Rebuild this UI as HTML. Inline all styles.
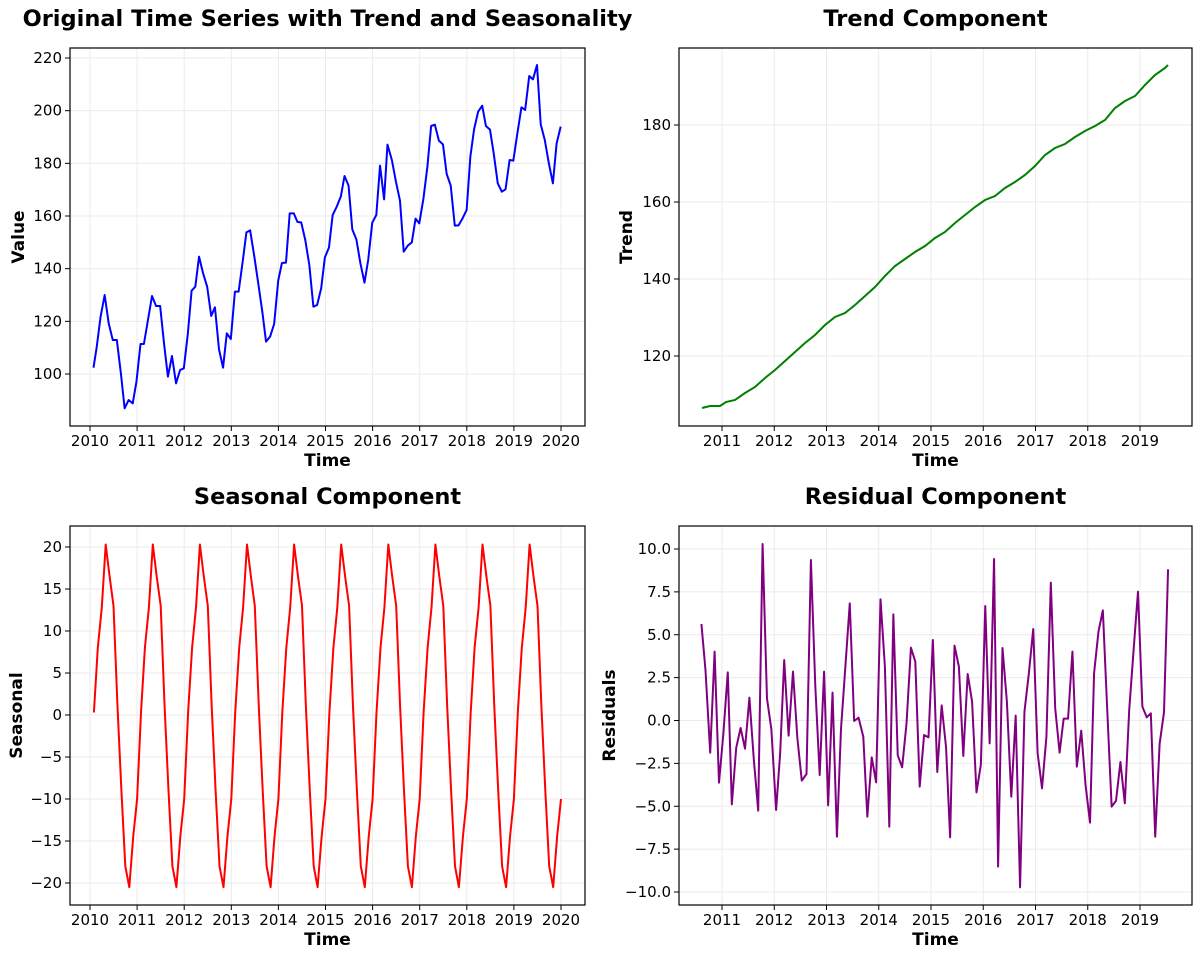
<!DOCTYPE html>
<html><head><meta charset="utf-8"><style>
body{margin:0;background:#fff;}
svg text{font-family:"DejaVu Sans","Liberation Sans",sans-serif;fill:#000;}
</style></head><body>
<svg id="s" width="1200" height="956" xmlns="http://www.w3.org/2000/svg">
<rect width="1200" height="956" fill="#fff"/>
<g id="g"></g>
<g transform="translate(60 40) scale(0.3383 0.33333)"><polyline fill="none" stroke="#0000ff" stroke-width="2" vector-effect="non-scaling-stroke" stroke-linejoin="round" points="99,983 108,925 120,830 132,765 144,850 156,900 168,900 180,1000 191,1105 203,1080 215,1090 226,1025 238,912 248,912 260,840 272,768 284,798 296,798 308,915 319,1010 331,948 343,1030 355,990 366,985 378,880 389,752 400,740 411,650 423,700 435,740 447,828 458,802 470,928 482,983 493,880 505,897 517,755 528,755 540,665 551,577 562,571 574,647 586,730 598,815 609,905 621,890 633,852 645,722 656,669 668,668 679,520 691,520 702,546 713,547 725,600 737,675 749,800 760,795 772,745 783,652 795,623 806,525 818,500 830,470 841,408 853,437 864,568 876,598 888,670 900,728 911,660 923,548 935,525 946,377 958,478 968,314 981,360 993,425 1005,482 1016,635 1028,617 1040,607 1051,536 1062,550 1074,478 1086,380 1097,258 1108,254 1120,302 1132,313 1143,402 1155,437 1167,557 1178,556 1190,535 1202,510 1213,350 1224,268 1236,215 1248,197 1259,258 1271,269 1282,340 1294,430 1306,455 1317,448 1329,360 1340,362 1352,280 1364,202 1375,210 1387,108 1398,118 1410,75 1421,253 1433,300 1445,370 1457,430 1468,310 1480,260"/></g>
<polyline fill="none" stroke="#008000" stroke-width="2" points="702,408 710,406 720,406 726,402 735,400 745,393 755,387 765,378 775,370 785,361 795,352 805,343 815,335 825,325 835,317 845,313 855,305 865,296 875,287 885,276 895,266 905,259 915,252 925,246 935,238 945,232 955,223 965,215 975,207 985,200 995,196 1005,188 1015,182 1025,175 1035,166 1045,155 1055,148 1065,144 1075,137 1085,131 1095,126 1105,120 1115,108 1125,101 1135,96 1145,85 1155,75 1165,68 1168,65"/>
<polyline id="seas" fill="none" stroke="#ff0000" stroke-width="2" stroke-linejoin="round" points=""/>
<g transform="translate(670 520) scale(0.3379 0.33333)"><polyline fill="none" stroke="#800080" stroke-width="2" vector-effect="non-scaling-stroke" stroke-linejoin="round" points="93,312 105,450 119,698 132,395 145,788 158,640 171,457 183,853 196,683 209,624 222,686 235,533 248,718 261,872 274,72 287,535 300,628 314,870 326,700 338,420 351,647 364,455 377,655 390,782 404,762 417,120 430,498 443,765 456,455 468,856 481,518 494,950 506,628 519,440 532,250 545,603 558,593 572,650 584,890 597,712 610,787 623,238 636,440 649,920 661,283 674,706 687,742 700,610 713,383 726,425 739,800 752,645 765,652 778,360 791,756 804,556 817,682 829,952 842,377 855,440 868,708 881,462 894,545 907,817 920,734 933,258 946,670 959,117 971,1040 984,384 997,545 1010,830 1023,587 1036,1102 1049,575 1062,460 1075,327 1088,700 1101,805 1114,650 1127,188 1140,565 1153,698 1165,596 1178,596 1191,395 1204,740 1217,632 1230,797 1243,908 1255,460 1268,335 1281,271 1294,570 1307,860 1320,842 1333,726 1346,850 1359,570 1372,390 1385,215 1398,560 1411,592 1423,580 1436,950 1449,672 1462,576 1474,148"/></g>
<g id="frames"></g>
</svg>
<script>
var NS="http://www.w3.org/2000/svg",g=document.getElementById('g'),fr=document.getElementById('frames');
function el(p,t,a,txt){var e=document.createElementNS(NS,t);for(var k in a)e.setAttribute(k,a[k]);if(txt!==undefined)e.textContent=txt;p.appendChild(e);return e;}
function panel(o){
 var x0=o.x0,x1=o.x1,y0=o.y0,y1=o.y1;
 o.xt.forEach(function(t){el(g,'line',{x1:t[0],x2:t[0],y1:y0,y2:y1,stroke:'#ebebeb','stroke-width':1});
  el(fr,'line',{x1:t[0],x2:t[0],y1:y1,y2:y1+5,stroke:'#000'});
  el(fr,'text',{x:t[0],y:y1+20,'text-anchor':'middle','font-size':15},t[1]);});
 o.yt.forEach(function(t){el(g,'line',{x1:x0,x2:x1,y1:t[0],y2:t[0],stroke:'#ebebeb','stroke-width':1});
  el(fr,'line',{x1:x0-5,x2:x0,y1:t[0],y2:t[0],stroke:'#000'});
  el(fr,'text',{x:x0-8,y:t[0]+5,'text-anchor':'end','font-size':15},t[1]);});
 el(fr,'rect',{x:x0,y:y0,width:x1-x0,height:y1-y0,fill:'none',stroke:'#000','stroke-width':1.2});
 el(fr,'text',{x:(x0+x1)/2,y:y0-22,'text-anchor':'middle','font-size':22.5,'font-weight':'bold'},o.title);
 el(fr,'text',{x:(x0+x1)/2,y:y1+40,'text-anchor':'middle','font-size':17,'font-weight':'bold'},'Time');
 el(fr,'text',{x:0,y:0,'text-anchor':'middle','font-size':17,'font-weight':'bold',transform:'translate('+o.yl+' '+((y0+y1)/2)+') rotate(-90)'},o.ylab);
}
var xa=[],xb=[];for(var i=0;i<=10;i++)xa.push([90+47.1*i,String(2010+i)]);
for(i=0;i<9;i++)xb.push([722+52.25*i,String(2011+i)]);
function ys(v0,p0,step,ps,n,fmt){var r=[];for(var i=0;i<n;i++)r.push([p0+ps*i,fmt(v0-step*i)]);return r;}
panel({x0:70,x1:585,y0:48,y1:426,xt:xa,yt:ys(220,58,20,52.67,7,String),title:'Original Time Series with Trend and Seasonality',ylab:'Value',yl:24});
panel({x0:679,x1:1192,y0:48,y1:426,xt:xb,yt:ys(180,125,20,77,4,String),title:'Trend Component',ylab:'Trend',yl:632});
panel({x0:70,x1:585,y0:526,y1:905,xt:xa,yt:ys(20,547,5,42,9,function(v){return v<0?'\u2212'+(-v):String(v)}),title:'Seasonal Component',ylab:'Seasonal',yl:22});
panel({x0:679,x1:1192,y0:526,y1:905,xt:xb,yt:ys(10,549,2.5,42.875,9,function(v){return (v<0?'\u2212':'')+Math.abs(v).toFixed(1)}),title:'Residual Component',ylab:'Residuals',yl:615});
var sv=[0.3,8,12.8,20.3,16.5,13,1,-9,-18,-20.5,-14.5,-10],pts=[];
for(var y=0;y<10;y++)for(var m=1;m<=12;m++)pts.push((90+47.1*(y+m/12)).toFixed(1)+','+(715-8.4*sv[m-1]).toFixed(1));
document.getElementById('seas').setAttribute('points',pts.join(' '));
</script>
</body></html>
